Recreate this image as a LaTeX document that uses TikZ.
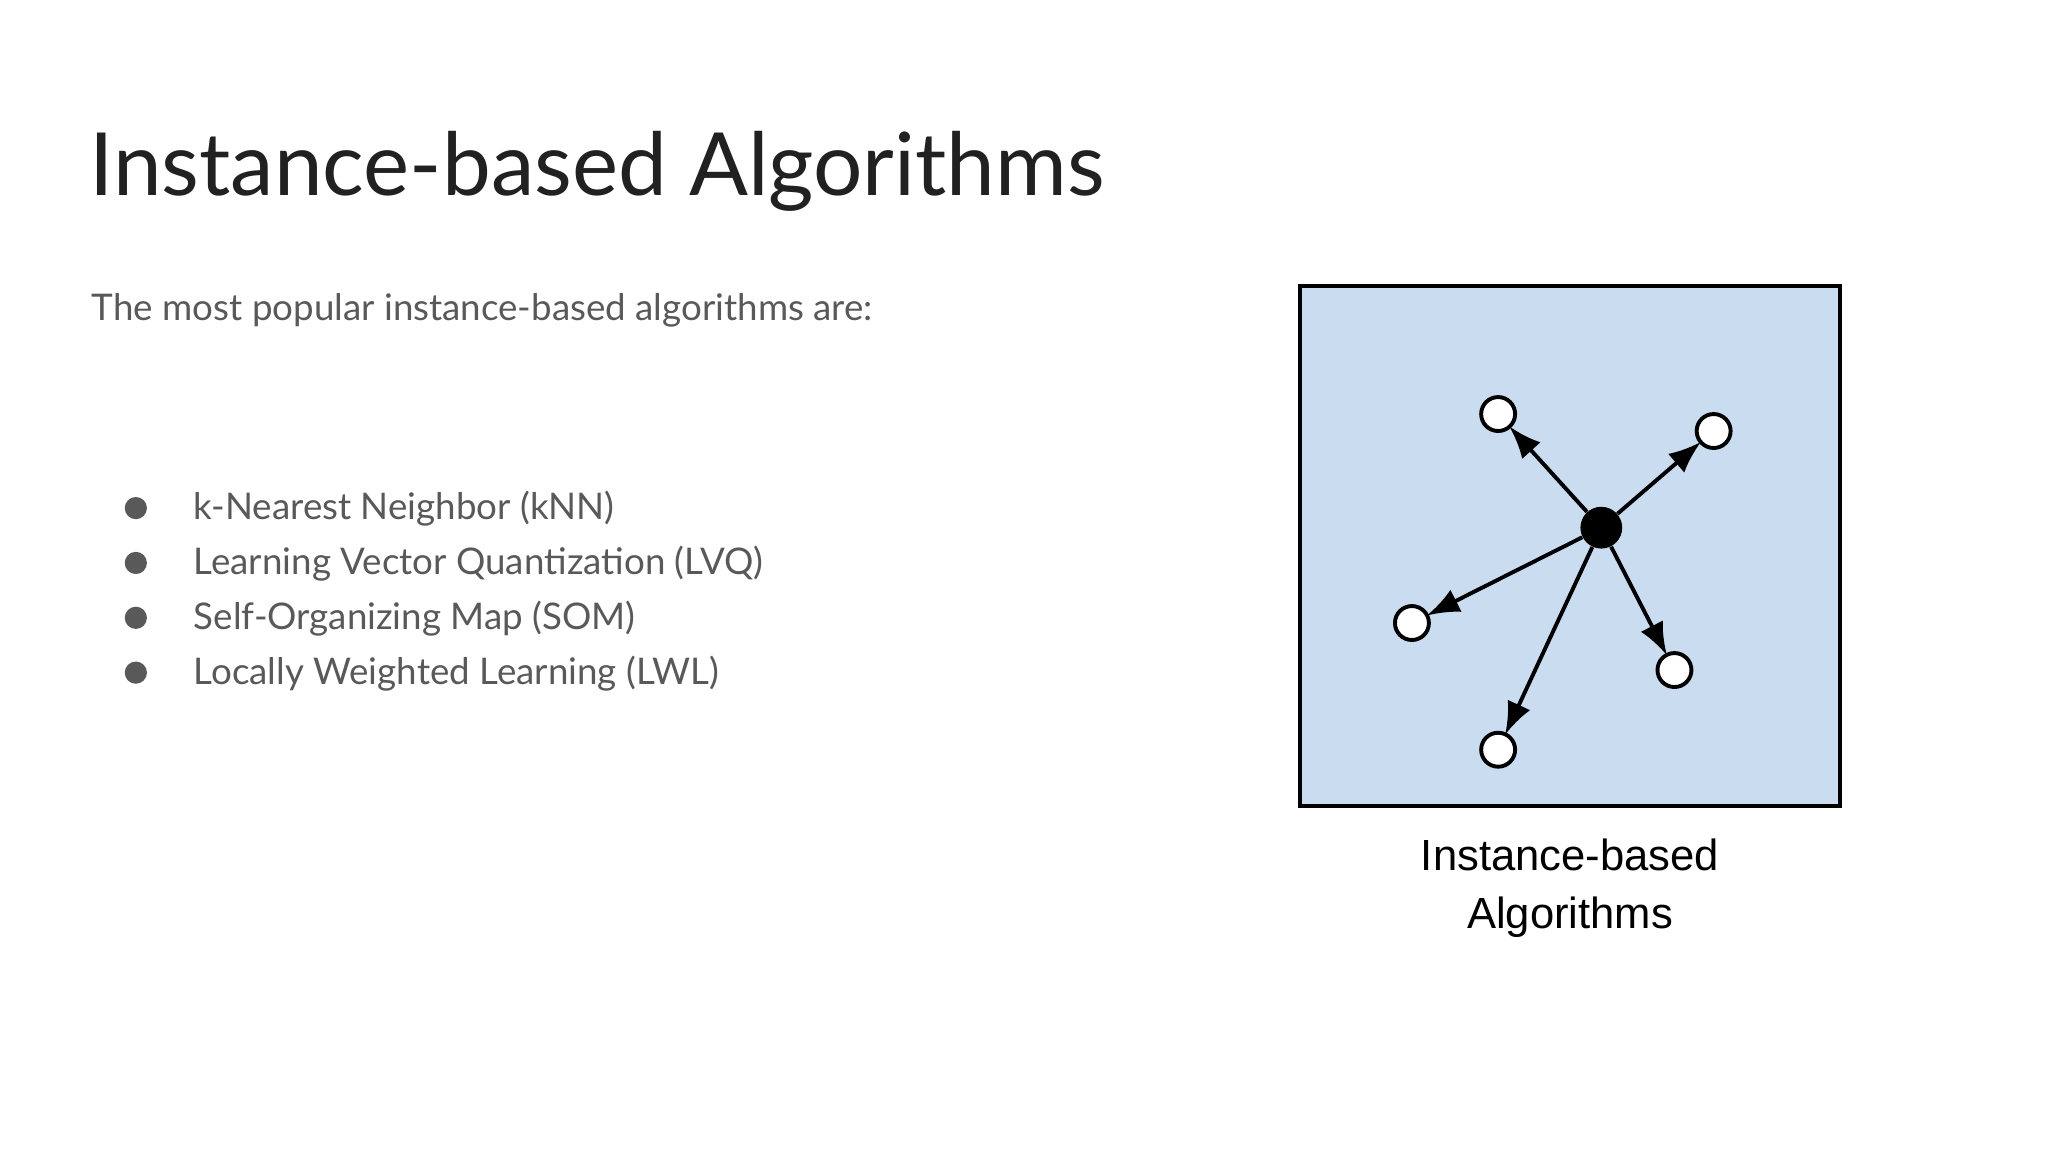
\documentclass[tikz,border=0pt]{standalone}
\usepackage{fontspec}
\setmainfont{Lato}
\newfontfamily\capfont{Liberation Sans}
\usetikzlibrary{arrows.meta}
\definecolor{titlec}{HTML}{212121}
\definecolor{bodyc}{HTML}{595959}
\definecolor{boxfill}{HTML}{CADCF0}
\begin{document}
\begin{tikzpicture}[x=0.02cm,y=-0.02cm,
  open/.style={circle,draw=black,line width=1.7pt,fill=white,minimum size=0.52cm,inner sep=0pt},
  conn/.style={line width=1.7pt,-{Latex[length=0.5cm,width=0.38cm]},shorten >=-1pt},
  item/.style={anchor=base west,font=\fontsize{16}{19}\selectfont,text=bodyc,inner sep=0pt},
  dotc/.style={circle,fill=bodyc,minimum size=0.34cm,inner sep=0pt}]
\useasboundingbox (0,0) rectangle (1568,882);
\node[anchor=base west,inner sep=0pt,text=titlec,font=\fontsize{38}{44}\selectfont] (title) at (68,150) {Instance-based Algorithms};
\node[anchor=base west,inner sep=0pt,text=bodyc,font=\fontsize{16}{19}\selectfont] (sub) at (70,245) {The most popular instance-based algorithms are:};
\foreach \y/\t [count=\i] in {398/k-Nearest Neighbor (kNN),440/Learning Vector Quantization (LVQ),482/Self-Organizing Map (SOM),524/Locally Weighted Learning (LWL)}{
  \node[dotc] (d\i) at (104,\y-9) {};
  \node[item] (t\i) at (148,\y) {\t};
}
\node[draw=black,line width=1.8pt,fill=boxfill,minimum width=8.28cm,minimum height=7.96cm,inner sep=0pt] (box) at (1202,418) {};
\node[circle,fill=black,minimum size=0.64cm,inner sep=0pt] (c) at (1226,404) {};
\node[open] (n1) at (1147,317) {};
\node[open] (n2) at (1312,330) {};
\node[open] (n3) at (1081,477) {};
\node[open] (n4) at (1282,513) {};
\node[open] (n5) at (1147,574) {};
\foreach \n in {n1,n2,n3,n4,n5} \draw[conn] (c) -- (\n);
\node[font=\capfont\fontsize{19}{25}\selectfont,align=center,text=black] (cap) at (1202,680) {Instance-based\\Algorithms};
\end{tikzpicture}
\end{document}
